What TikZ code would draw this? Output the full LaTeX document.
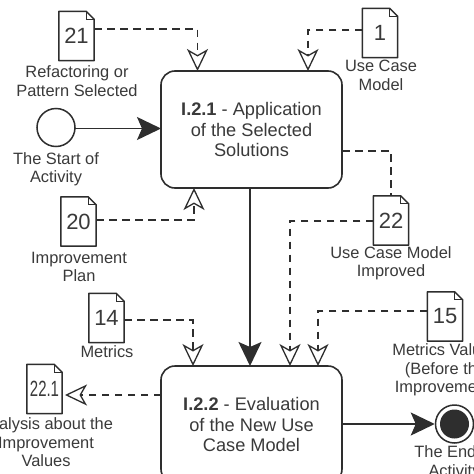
\documentclass[tikz,border=0pt]{standalone}
\usepackage{fontspec}
\usepackage{graphicx}
\setmainfont{Liberation Sans}
\usetikzlibrary{arrows.meta,calc}
\definecolor{ink}{HTML}{2E2E2E}
\definecolor{txt}{HTML}{3A3A3A}
\tikzset{
 openhead/.style={-{Stealth[length=22pt,width=21pt,inset=6pt,fill=white,line width=1.3pt]}},
 dep/.style={draw=ink,line width=1.3pt,dash pattern=on 7.5pt off 5.5pt},
 flow/.style={draw=ink,line width=1.6pt,-{Stealth[length=24pt,width=23pt,inset=5pt,fill=ink]}},
 docu/.style={minimum width=35pt,minimum height=49pt,inner sep=0pt,text=txt,font=\fontsize{22}{22}\selectfont},
 lab/.style={align=center,inner sep=0pt,text=txt,font=\fontsize{16.4}{18.5}\selectfont},
 activity/.style={draw=ink,line width=1.6pt,rounded corners=14pt,minimum width=181pt,minimum height=117pt,inner sep=0pt,align=center,text=txt,font=\fontsize{18.2}{20.5}\selectfont},
}
\begin{document}
\begin{tikzpicture}[x=1pt,y=-1pt]
\useasboundingbox (0,0) rectangle (474,474);
\fill[white] (0,0) rectangle (474,474);
\node[activity] (b1) at (251.5,129.5) {\textbf{I.2.1} - Application\\of the Selected\\Solutions};
\node[activity] (b2) at (251.5,424.5) {\textbf{I.2.2} - Evaluation\\of the New Use\\Case Model};
\node[docu] (d21) at (76.5,36) {21};
\node[docu] (d1) at (380,33) {1};
\node[docu] (d20) at (78.5,221.5) {20};
\node[docu] (d22) at (391,220.5) {22};
\node[docu] (d14) at (106.5,318) {14};
\node[docu] (d221) at (44.5,389) {\scalebox{.68}[1]{22.1}};
\node[docu] (d15) at (445,316.5) {15};
\foreach \n in {d21,d1,d20,d22,d14,d221,d15}{
 \draw[ink,line width=1.5pt,line join=round] (\n.north west) -- ([xshift=-8pt]\n.north east) -- ([yshift=-8pt]\n.north east) -- (\n.south east) -- (\n.south west) -- cycle;
 \draw[ink,line width=0.9pt] ([xshift=-8pt]\n.north east) -- ([xshift=-8pt,yshift=-8pt]\n.north east) -- ([yshift=-8pt]\n.north east);
}
\node[circle,draw=ink,line width=1.5pt,minimum size=38pt,inner sep=0pt] (start) at (56,127.5) {};
\node[circle,draw=ink,line width=1.5pt,minimum size=38pt,inner sep=0pt] (endo) at (454.5,424) {};
\fill[ink] (endo.center) circle (14.5pt);
\node[lab] (l21) at (77,81) {Refactoring or\\Pattern Selected};
\node[lab] (l1) at (381,75.5) {Use Case\\Model};
\node[lab] (lstart) at (56,169.5) {The Start of\\Activity};
\node[lab] (l20) at (79,267) {Improvement\\Plan};
\node[lab] (l22) at (391,263.5) {Use Case Model\\Improved};
\node[lab] (l14) at (107,352) {Metrics};
\node[lab] (l221) at (46,442.5) {Analysis about the\\Improvement\\Values};
\node[lab] (l15) at (445.5,370) {Metrics Values\\(Before the\\Improvement)};
\node[lab] (lend) at (454.5,463) {The End of\\Activity};
\coordinate (t21) at (197.5,71);
\coordinate (t1) at (308,71);
\coordinate (t20) at (194,188);
\coordinate (t14) at (193,366);
\coordinate (t22) at (290,366);
\coordinate (t15) at (318,366);
\coordinate (out22) at (342,151);
\coordinate (s1) at (250,188);
\coordinate (s2) at (250,366);
\coordinate (out0) at (75,128.5);
\coordinate (in1) at (161,128.5);
\coordinate (out221) at (161,395);
\coordinate (ta) at (65,395);
\draw[dep,openhead] (d21.east |- 0,29) -| (t21);
\draw[dep,openhead] (d1.west |- 0,30) -| (t1);
\draw[dep,openhead] (d20.east |- 0,220) -| (t20);
\draw[dep,openhead] (d14.east |- 0,320) -| (t14);
\draw[dep,openhead] (d22.west |- 0,221) -| (t22);
\draw[dep,openhead] (d15.west |- 0,311) -| (t15);
\draw[dep,openhead] (out221) -- (ta);
\draw[dep] (out22) -| (d22.north);
\draw[flow] (out0) -- (in1);
\draw[flow] (s1) -- (s2);
\draw[flow] (b2.east |- endo) -- (endo);
\end{tikzpicture}
\end{document}
